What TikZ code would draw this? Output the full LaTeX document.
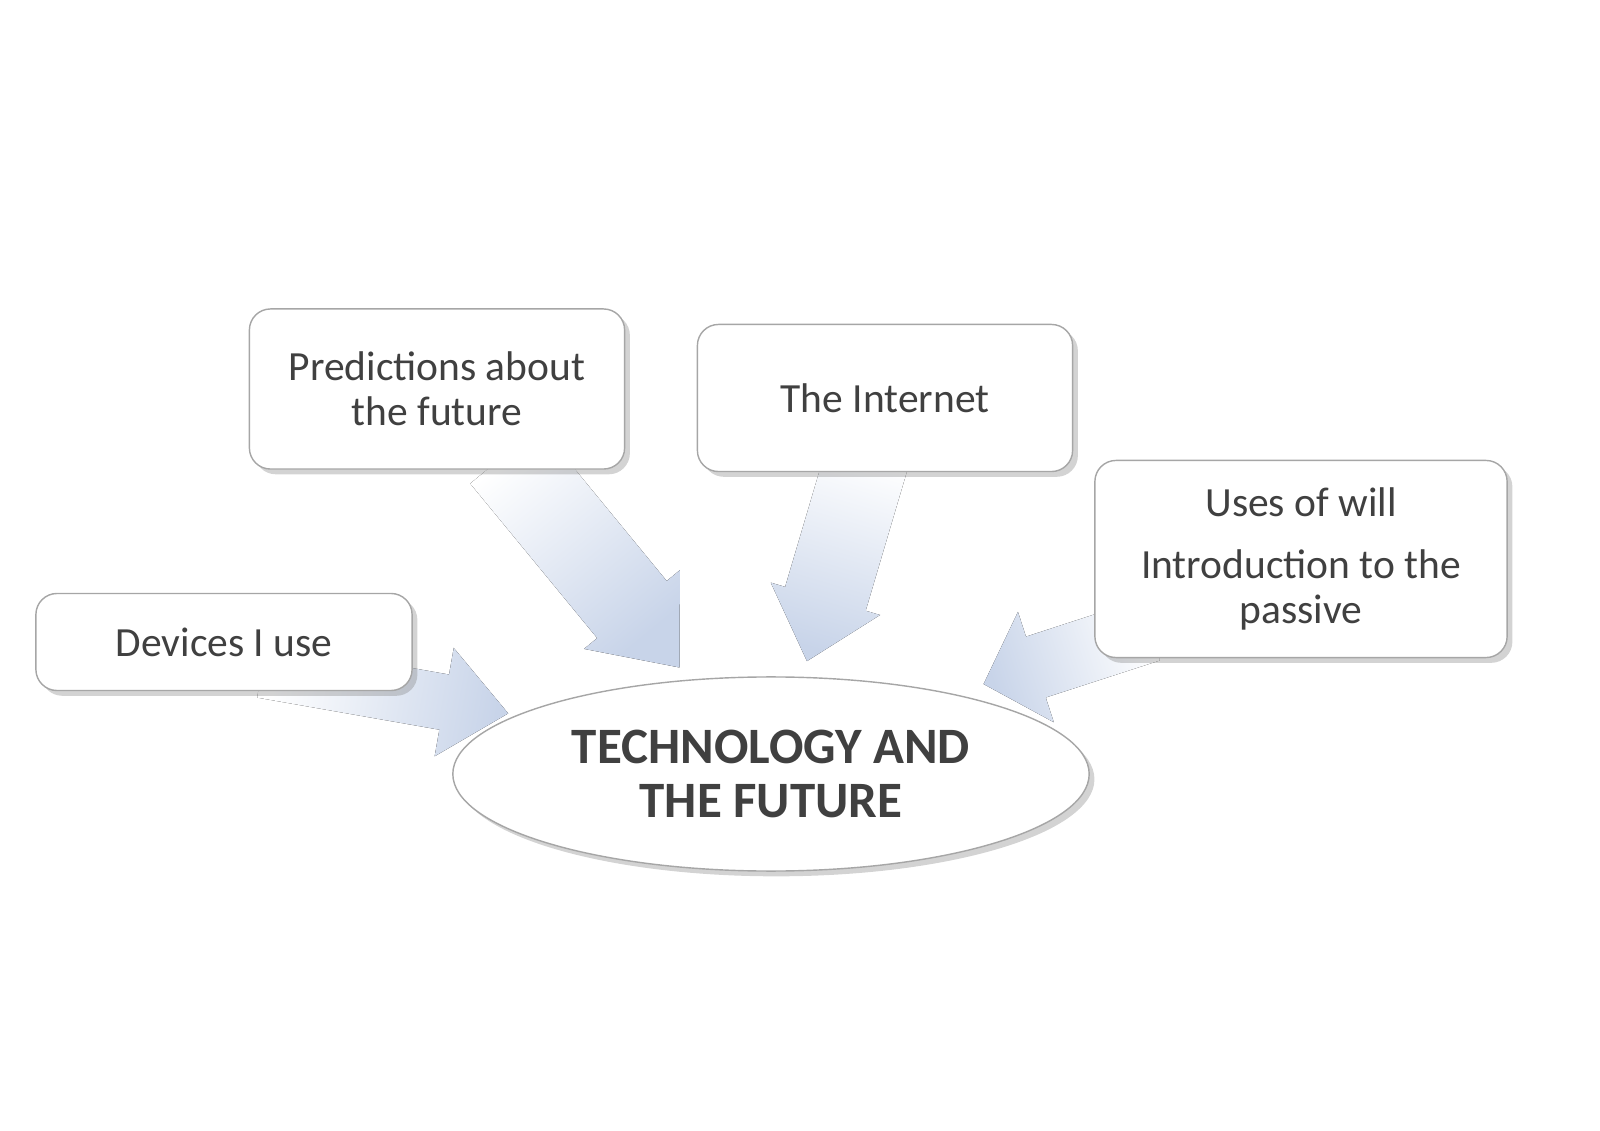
\documentclass[tikz,border=0pt]{standalone}
\usepackage{fontspec}
\setmainfont{Carlito}
\usetikzlibrary{shapes.geometric,shadows}
\definecolor{txt}{HTML}{404040}
\definecolor{arr}{HTML}{C8D4E9}
\tikzset{
  topic/.style={draw=gray!70, rounded corners=6pt, fill=white, drop shadow={opacity=0.35,shadow xshift=1.5pt,shadow yshift=-1.5pt},
    text=txt, align=center, font=\fontsize{11.8}{12.8}\selectfont, inner sep=0pt},
}
% name, tail, angle, length, shaft half, head half, head length
\newcommand\fatarrow[7]{%
  \begin{scope}[shift={#2}, rotate=#3]
    \coordinate (#1) at (#4,0);
    \fill[top color=white, bottom color=arr, shading angle=#3+90]
      (0,-#5) -- (#4-#7,-#5) -- (#4-#7,-#6) -- (#4,0) -- (#4-#7,#6) -- (#4-#7,#5) -- (0,#5) -- cycle;
  \end{scope}}
\begin{document}
\begin{tikzpicture}[x=0.01cm,y=-0.01cm]
\useasboundingbox (0,0) rectangle (1600,1131);
% arrows
\fatarrow{t1}{(262,670)}{-10}{250}{28}{55}{65}
\fatarrow{t2}{(505,455)}{-50.6}{275}{45}{62}{75}
\fatarrow{t3}{(868,455)}{-106.5}{215}{42}{57}{65}
\fatarrow{t4}{(1150,630)}{198}{175}{32}{58}{55}
% boxes
\node[topic, minimum width=3.76cm, minimum height=0.97cm] (dev) at (224,642) {Devices I use};
\node[topic, minimum width=3.75cm, minimum height=1.6cm] (pred) at (437,389) {Predictions about\\the future};
\node[topic, minimum width=3.75cm, minimum height=1.47cm] (net) at (885,398) {The Internet};
\node[topic, minimum width=4.12cm, minimum height=1.97cm] (uses) at (1301,559) {Uses of will\\[0.17cm]Introduction to the\\passive};
\node[ellipse, draw=gray!70, fill=white, drop shadow={opacity=0.35,shadow xshift=1.5pt,shadow yshift=-1.5pt},
  minimum width=6.36cm, minimum height=1.94cm, text=txt, align=center, inner sep=0pt,
  font=\bfseries\fontsize{14.5}{15.6}\selectfont] (main) at (771,774) {TECHNOLOGY AND\\THE FUTURE};
\end{tikzpicture}
\end{document}
